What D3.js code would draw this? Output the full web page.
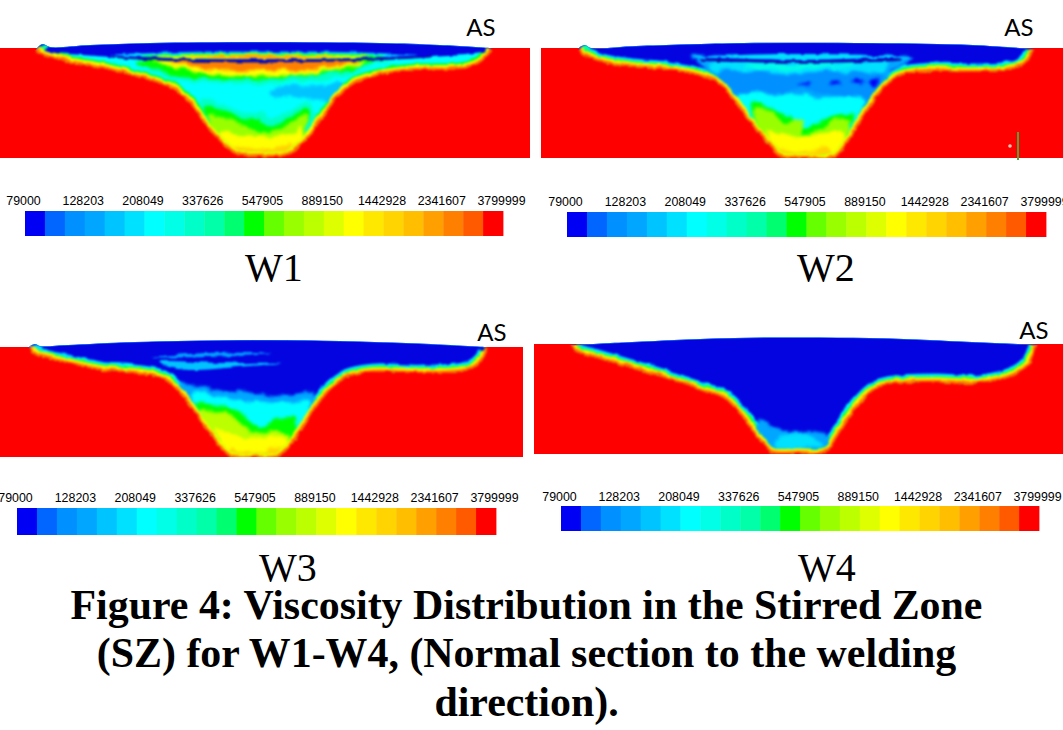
<!DOCTYPE html>
<html>
<head>
<meta charset="utf-8">
<script src="https://cdnjs.cloudflare.com/ajax/libs/d3/7.8.5/d3.min.js"></script>
<style>
  html, body { margin: 0; padding: 0; background: #fff; overflow: hidden; }
  svg { display: block; }
  text { fill: #000; }
</style>
</head>
<body>
<div id="chart"></div>
<script>
// Viscosity colour key shared by all four sections
const legendColors = ["#0000f4","#0066ff","#0090ff","#00a6ff","#00c4ff","#00e0ff","#00ffff","#00ffe6","#00ffc8","#00ffa8","#00ff70",
  "#00ff00","#66ff00","#99ff00","#bbff00","#ddff00","#ffff00","#ffe800","#ffd400","#ffbe00","#ffa000","#ff8000","#ff5a00","#ff0000"];
const legendTicks = [79000,128203,208049,337626,547905,889150,1442928,2341607,3799999];
const capBlue = "#0404e0";

// Weld nugget outlines: [distance along the section, depth below the plate surface]
const w1Floor = [[36,2],[45,7],[69,14],[103,20],[138,29],[172,40],[190,55],[207,79],[224,97],[238,107],[260,108],[283,108],[300,99],[321,72],[338,49],[355,35],[379,27],[414,22],[459,21],[479,15],[490,4],[491,0]];
const w1Cap = [[440,-3],[380,-5],[260,-6],[150,-5],[90,-3],[50,-1],[43,-4],[38,-1]];
const w2Floor = [[38,2],[44,7],[61,14],[95,19],[129,22],[156,27],[176,35],[193,52],[209,75],[230,99],[240,109],[265,110],[294,109],[310,89],[327,62],[344,39],[361,27],[391,23],[432,24],[465,22],[482,17],[492,4],[492,1]];
const w2Cap = [[432,-3],[331,-5],[203,-5],[95,-2],[50,0],[44,-3],[38,0]];
const w3Floor = [[30,1],[37,8],[68,16],[101,23],[135,26],[162,31],[179,45],[196,68],[216,95],[230,110],[255,111],[277,110],[291,98],[311,68],[328,45],[348,30],[372,25],[423,26],[467,23],[482,13],[487,1],[485,0]];
const w3Cap = [[406,-4],[270,-7],[135,-5],[68,-2],[40,-1],[35,-3],[29,0]];
const w4Floor = [[37,1],[44,8],[64,14],[98,24],[132,34],[166,46],[190,54],[207,71],[224,94],[237,108],[265,109],[292,108],[302,94],[322,64],[343,44],[370,39],[404,38],[445,39],[479,31],[496,18],[503,1]];
const w4Cap = [[438,-2],[336,-6],[200,-6],[98,-2],[40,1]];

// Mottled viscosity regions inside each nugget: [key level, outline]
const w1Zones = [
  [4,[[270,42],[310,38],[345,36],[335,50],[300,50],[275,48]]],
  [8,[[138,12],[160,27],[224,36],[276,36],[335,30],[372,18],[390,11]]],
  [11,[[138,12],[172,27],[224,30],[276,30],[328,25],[366,17],[379,12]]],
  [16,[[155,14],[193,22],[241,27],[293,27],[338,21],[366,14]]],
  [21,[[169,13],[197,19],[241,22],[293,22],[331,19],[359,13]]],
  [8,[[200,52],[221,54],[241,62],[262,66],[276,70],[293,59],[312,53],[315,75],[303,98],[286,112],[238,112],[218,92]]],
  [11,[[203,59],[221,60],[241,69],[262,72],[276,77],[293,65],[310,60],[310,72],[303,95],[286,112],[238,112],[221,92]]],
  [13,[[208,68],[225,70],[241,76],[255,80],[276,82],[293,72],[308,67],[305,90],[286,112],[238,112],[222,92]]],
  [11,[[255,78],[268,76],[270,84],[258,85]]],
  [16,[[218,84],[245,88],[275,89],[296,84],[304,80],[298,97],[284,112],[238,112]]],
  [18,[[228,98],[250,100],[275,99],[292,96],[283,112],[238,112]]]
];
const w2Zones = [
  [3,[[152,10],[260,12],[371,10],[351,25],[337,42],[324,62],[310,82],[290,112],[240,112],[213,79],[193,52],[172,25]]],
  [5,[[169,15],[260,14],[348,15],[337,25],[263,25],[183,27]]],
  [7,[[203,17],[260,16],[314,17],[263,21],[213,21]]],
  [2,[[176,25],[260,26],[341,27],[327,52],[263,42],[209,49],[193,42]]],
  [0,[[310,33],[317,29],[325,34],[317,36]]],
  [0,[[288,35],[294,33],[300,35],[294,37]]],
  [0,[[328,33],[336,28],[336,36],[330,38]]],
  [0,[[258,36],[264,35],[270,36],[264,38]]],
  [6,[[196,49],[236,45],[280,50],[324,52],[310,82],[290,112],[240,112],[213,79]]],
  [11,[[209,55],[230,62],[250,69],[263,79],[284,70],[314,65],[307,85],[290,112],[240,112],[220,82]]],
  [13,[[213,62],[230,65],[243,75],[260,72],[262,87],[280,79],[294,70],[309,75],[290,112],[240,112],[223,85]]],
  [16,[[226,82],[257,89],[284,85],[305,84],[290,112],[240,112]]],
  [18,[[236,102],[263,104],[287,100],[290,112],[240,112]]]
];
const w3Zones = [
  [3,[[179,36],[210,43],[243,43],[270,48],[314,48],[304,78],[284,112],[230,112],[203,78]]],
  [6,[[193,46],[220,51],[254,55],[287,56],[311,55],[298,85],[284,112],[230,112],[206,81]]],
  [11,[[196,56],[220,60],[243,68],[257,81],[277,73],[296,71],[291,98],[277,112],[230,112],[210,81]]],
  [14,[[199,63],[220,66],[240,75],[250,85],[270,85],[287,88],[277,112],[230,112],[213,85]]],
  [16,[[216,81],[243,91],[267,90],[286,93],[277,112],[230,112]]],
  [18,[[230,103],[257,105],[281,103],[274,112],[233,112]]]
];
const w4Zones = [
  [3,[[222,76],[241,84],[268,88],[285,88],[297,93],[285,104],[241,106]]],
  [5,[[248,91],[275,91],[288,99],[268,104],[241,103]]]
];

// Clean-edged layers near the top surface: [key level, outline]; level -1 is the low-viscosity cap
const w1Lens = [
  [-1,[[36,0],[43,4],[69,6],[110,9],[155,12],[262,13],[369,12],[431,9],[490,2],[495,-6],[260,-9],[36,-6]]],
  [3,[[110,7],[180,4],[263,3.5],[345,4],[417,7],[345,10],[263,11],[180,10]]],
  [6,[[125,7.5],[185,5],[263,4.5],[340,5],[400,7.5],[340,10],[263,11],[185,10]]],
  [11,[[140,8],[190,6],[263,5.5],[335,6],[385,8],[335,10.5],[263,11],[190,10.5]]],
  [16,[[150,8.5],[200,7],[263,6.5],[325,7],[370,8.5],[325,10.5],[263,11],[200,10.5]]],
  [20,[[185,9],[220,7.8],[263,7.5],[305,7.8],[340,9],[305,10],[263,10.5],[220,10]]],
  [-1,[[150,11.5],[200,12],[262,12],[330,12],[372,11.5],[330,13.5],[262,14.5],[200,13.5]]],
  [9,[[38,1],[43,-3],[48,-1],[43,2]]]
];
const w2Lens = [
  [5,[[150,10],[200,7],[260,6],[320,7],[372,10],[320,11],[260,12],[200,11]]],
  [-1,[[159,11],[260,12],[361,11],[360,12],[260,14.5],[160,12]]],
  [9,[[39,1],[44,-3],[50,-1],[44,2]]]
];
const w3Lens = [
  [3,[[152,10],[210,6],[270,7],[210,10]]],
  [4,[[159,15],[220,16],[281,16],[237,20],[189,23],[169,20]]],
  [5,[[30,0],[36,-3],[42,-1],[38,4],[33,5]]]
];
const w4Lens = [];

// Thin dark streaks along the cap underside
const w1Lines = [[[110,9],[155,12],[262,13.5],[369,12],[431,9]]];
const w2Lines = [[[160,12],[260,14],[360,12]]];
const noLines = [];

// Orientation triad drawn inside the W2 section
const w2Triad = [[477,84],[477,112]];

const sectionNames = ["W1","W2","W3","W4"];
const sectionLefts = [0,541,0,534];
const sectionRights = [530,1063,523,1063];
const sectionTops = [48,48,347,344];
const sectionBases = [6,-1,-1,-1];
const floors = [w1Floor,w2Floor,w3Floor,w4Floor];
const caps = [w1Cap,w2Cap,w3Cap,w4Cap];
const zones = [w1Zones,w2Zones,w3Zones,w4Zones];
const lenses = [w1Lens,w2Lens,w3Lens,w4Lens];
const lines = [w1Lines,w2Lines,noLines,noLines];
const coolRings = [[[6,9],[8,7.4],[11,6]],[[4,8.4],[6,7.4],[8,6.5],[11,5.6]],[[4,8.4],[6,7.4],[8,6.5],[11,5.6]],[[4,8.4],[6,7.4],[8,6.5],[11,5.6]]];
const hotRing = [[14,4.8],[16,4],[19,2.9],[21,1.9],[22,1]];

const keyLefts = [25,567,17,561];
const keyRights = [503,1046,496,1039];
const keyTops = [211,212,508,506];
const keyHeights = [25,25,27,25];
const labelLifts = [6,6,6,5];
const nameXs = [274,826,288,827];
const nameYs = [281,281,581,581];
const asXs = [481,1019,492,1034];
const asYs = [36,36,341,339];

const captionLines = ["Figure 4: Viscosity Distribution in the Stirred Zone","(SZ) for W1-W4, (Normal section to the welding","direction)."];
const captionYs = [619,667,716];

const width = 1063, height = 730, sectionDepth = 110;
const svg = d3.select("#chart").append("svg").attr("width", width).attr("height", height);
const defs = svg.append("defs");

// Edge roughness of the contour shading: one gentle pass for the whole nugget, a stronger one for its interior
function roughFilter(id, frequency, scale, seed, blur) {
  const f = defs.append("filter").attr("id",id).attr("filterUnits","userSpaceOnUse")
    .attr("x",0).attr("y",0).attr("width",width).attr("height",height)
    .attr("color-interpolation-filters","sRGB");
  f.append("feTurbulence").attr("type","fractalNoise").attr("baseFrequency",frequency).attr("numOctaves",2).attr("seed",seed).attr("result","n");
  f.append("feDisplacementMap").attr("in","SourceGraphic").attr("in2","n").attr("scale",scale).attr("xChannelSelector","R").attr("yChannelSelector","G").attr("result","d");
  f.append("feGaussianBlur").attr("in","d").attr("stdDeviation",blur);
}
roughFilter("edge",0.1,4,4,1.05);
roughFilter("mottle",0.06,9,11,0.9);

const levelColor = l => l < 0 ? capBlue : legendColors[l];

sectionNames.forEach((name, i) => {
  const x = d3.scaleLinear().domain([0, sectionRights[i]-sectionLefts[i]]).range([sectionLefts[i], sectionRights[i]]);
  const y = d3.scaleLinear().domain([0, sectionDepth]).range([sectionTops[i], sectionTops[i]+sectionDepth]);
  const open = d3.line().x(d=>x(d[0])).y(d=>y(d[1])).curve(d3.curveCatmullRom.alpha(0.5));
  const closed = d3.line().x(d=>x(d[0])).y(d=>y(d[1])).curve(d3.curveCatmullRomClosed.alpha(0.5));
  const straight = d3.line().x(d=>x(d[0])).y(d=>y(d[1]));
  const floor = floors[i];
  const spanEnd = sectionRights[i]-sectionLefts[i];
  const capEdge = [floor[floor.length-1], ...caps[i], floor[0]];

  // The floor clip is left open upward; the smooth surface comes from the cap clip around it
  const floorRegion = open(floor) + straight([[floor[floor.length-1][0]+6,-14],[floor[0][0]-6,-14]]).replace("M","L") + "Z";
  defs.append("clipPath").attr("id","floor"+i).append("path").attr("d",floorRegion);
  const capRegion = open(capEdge) + straight([[0,floor[0][1]],[0,sectionDepth],[spanEnd,sectionDepth],[spanEnd,0]]).replace("M","L") + "Z";
  defs.append("clipPath").attr("id","cap"+i).append("path").attr("d",capRegion);

  const panel = svg.append("g").attr("class","section");
  panel.append("rect").attr("x",x.range()[0]).attr("y",y(0))
    .attr("width",x.range()[1]-x.range()[0]).attr("height",sectionDepth).attr("fill",legendColors[23]);

  const surface = panel.append("g").attr("clip-path",`url(#cap${i})`);
  const soft = surface.append("g").attr("filter","url(#edge)");
  const body = soft.append("g").attr("clip-path",`url(#floor${i})`);
  body.append("path").attr("d",floorRegion).attr("fill",levelColor(sectionBases[i]));

  const ring = (lv, w) => body.append("path").attr("d",open(floor)).attr("fill","none")
    .attr("stroke",legendColors[lv]).attr("stroke-width",w*2).attr("stroke-linejoin","round");

  // Cool side of the transition ring lies under the interior regions
  coolRings[i].forEach(([lv,w]) => ring(lv,w));

  body.append("g").attr("filter","url(#mottle)")
    .selectAll("path").data(zones[i]).join("path")
    .attr("d",d=>closed(d[1])).attr("fill",d=>levelColor(d[0]));
  body.append("g").selectAll("path").data(lenses[i]).join("path")
    .attr("d",d=>closed(d[1])).attr("fill",d=>levelColor(d[0]));
  body.selectAll("path.streak").data(lines[i]).join("path").attr("class","streak")
    .attr("d",open).attr("fill","none").attr("stroke","#0a1a70").attr("stroke-width",1);

  // Hot side of the ring runs over them, out to the unstirred plate
  hotRing.forEach(([lv,w]) => ring(lv,w));

  surface.append("path").attr("d",open(capEdge)).attr("fill","none")
    .attr("stroke",legendColors[2]).attr("stroke-width",1);

  if (i === 1) {
    panel.append("path").attr("d",open(w2Triad)).attr("stroke","#4da63a").attr("stroke-width",2).attr("fill","none");
    panel.append("circle").attr("cx",x(469)).attr("cy",y(98)).attr("r",1.8).attr("fill","#f2c9b8");
  }

  // Logarithmic colour key with its value labels
  const band = d3.scaleBand().domain(d3.range(legendColors.length)).range([keyLefts[i],keyRights[i]]);
  const logX = d3.scaleLog().domain([legendTicks[0],legendTicks[legendTicks.length-1]]).range([keyLefts[i],keyRights[i]]);
  const key = svg.append("g").attr("class","key");
  key.selectAll("rect").data(legendColors).join("rect")
    .attr("x",(d,k)=>band(k)).attr("y",keyTops[i]).attr("width",band.bandwidth()+0.4).attr("height",keyHeights[i]).attr("fill",d=>d);
  const axis = d3.axisTop(logX).tickValues(legendTicks).tickSize(0).tickPadding(0).tickFormat(d3.format("d"));
  const ag = key.append("g").attr("transform",`translate(-2,${keyTops[i]-labelLifts[i]})`).call(axis);
  ag.select(".domain").remove();
  ag.selectAll("text").attr("font-family","'Liberation Sans'").attr("font-size",12.4).attr("fill","#111");

  svg.append("text").attr("x",nameXs[i]).attr("y",nameYs[i]).attr("text-anchor","middle")
    .attr("font-family","'Liberation Serif'").attr("font-size",40).text(name);
  svg.append("text").attr("x",asXs[i]).attr("y",asYs[i]).attr("text-anchor","middle")
    .attr("font-family","Lato").attr("font-size",24).text("AS");
});

svg.selectAll("text.caption").data(captionLines).join("text").attr("class","caption")
  .attr("x",526.5).attr("y",(d,i)=>captionYs[i]).attr("text-anchor","middle")
  .attr("font-family","'Liberation Serif'").attr("font-weight","bold").attr("font-size",41.9).text(d=>d);
</script>
</body>
</html>
